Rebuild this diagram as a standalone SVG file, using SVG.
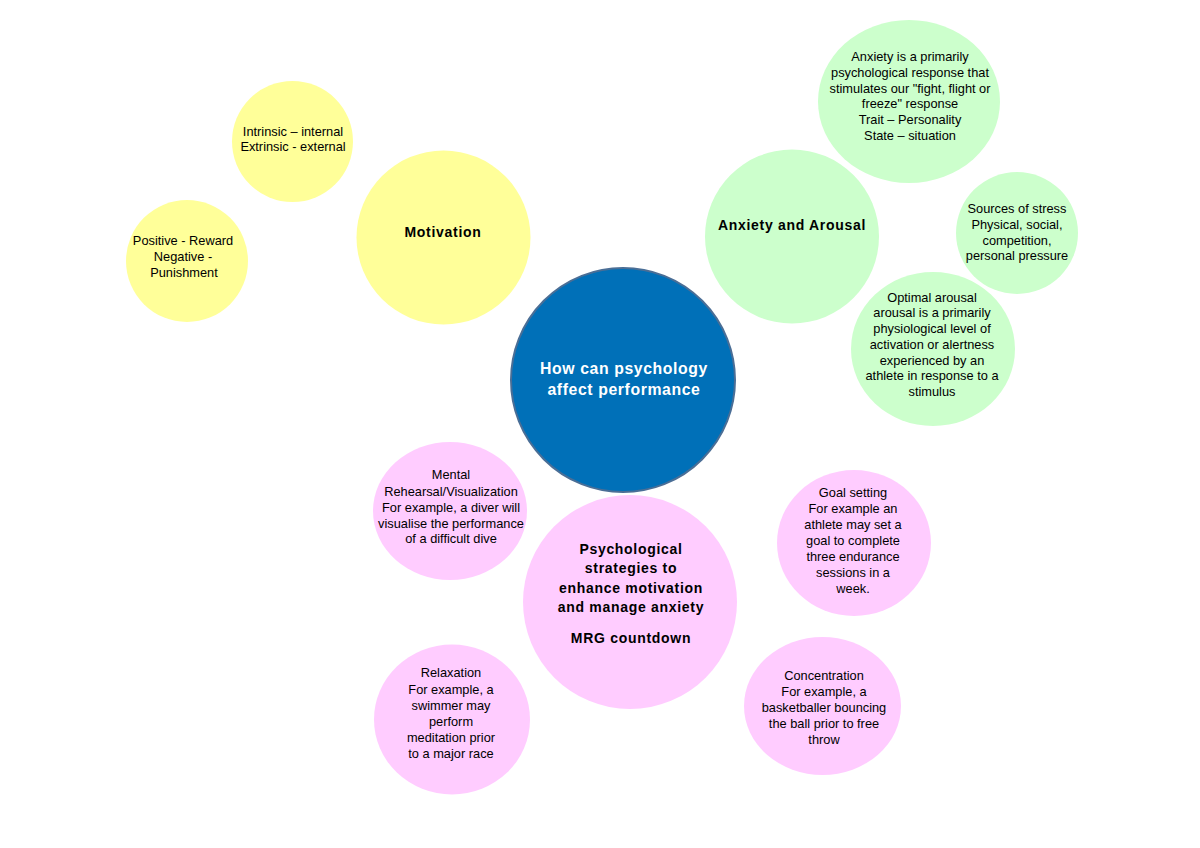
<svg xmlns="http://www.w3.org/2000/svg" width="1200" height="848" viewBox="0 0 1200 848">
<style>
.y{fill:#ffff99}
.g{fill:#ccffcc}
.p{fill:#ffccff}
text{font-family:"Liberation Sans",Arial,sans-serif;text-anchor:middle;fill:#000}
.t{font-size:12.8px}
.b{font-size:14px;font-weight:bold;letter-spacing:0.7px}
.w{font-size:15.8px;font-weight:bold;fill:#fff;letter-spacing:0.6px}
</style>
<rect width="1200" height="848" fill="#fff"/>
<g id="connectors"></g>
<g id="central">
<circle cx="623" cy="380" r="112" fill="#0070b8" stroke="#4a6e96" stroke-width="2"/>
<text class="w" x="624" y="374">How can psychology</text>
<text class="w" x="624" y="395">affect performance</text>
</g>
<g id="motivation">
<circle class="y" cx="443.5" cy="237.5" r="87"/>
<text class="b" x="443" y="237">Motivation</text>
</g>
<g id="intrinsic">
<circle class="y" cx="292.5" cy="141.5" r="60.5"/>
<text class="t" x="293" y="136">Intrinsic – internal</text>
<text class="t" x="293" y="151">Extrinsic - external</text>
</g>
<g id="positive">
<circle class="y" cx="187" cy="261" r="61"/>
<text class="t" x="183" y="245">Positive - Reward</text>
<text class="t" x="183" y="261">Negative -</text>
<text class="t" x="184" y="277">Punishment</text>
</g>
<g id="anxiety-arousal">
<circle class="g" cx="792" cy="236.5" r="87"/>
<text class="b" x="792" y="230">Anxiety and Arousal</text>
</g>
<g id="anxiety-def">
<ellipse class="g" cx="909" cy="101.5" rx="91" ry="81.5"/>
<text class="t" x="910" y="61">Anxiety is a primarily</text>
<text class="t" x="910" y="77">psychological response that</text>
<text class="t" x="910" y="93">stimulates our "fight, flight or</text>
<text class="t" x="910" y="108">freeze" response</text>
<text class="t" x="910" y="124">Trait – Personality</text>
<text class="t" x="910" y="140">State – situation</text>
</g>
<g id="sources">
<circle class="g" cx="1017" cy="233" r="61"/>
<text class="t" x="1017" y="213">Sources of stress</text>
<text class="t" x="1017" y="229">Physical, social,</text>
<text class="t" x="1017" y="245">competition,</text>
<text class="t" x="1017" y="260">personal pressure</text>
</g>
<g id="optimal">
<ellipse class="g" cx="933" cy="349" rx="82" ry="77"/>
<text class="t" x="932" y="302">Optimal arousal</text>
<text class="t" x="932" y="317">arousal is a primarily</text>
<text class="t" x="932" y="333">physiological level of</text>
<text class="t" x="932" y="349">activation or alertness</text>
<text class="t" x="932" y="365">experienced by an</text>
<text class="t" x="932" y="380">athlete in response to a</text>
<text class="t" x="932" y="396">stimulus</text>
</g>
<g id="strategies">
<circle class="p" cx="630" cy="602" r="107"/>
<text class="b" x="631" y="554">Psychological</text>
<text class="b" x="631" y="573">strategies to</text>
<text class="b" x="631" y="593">enhance motivation</text>
<text class="b" x="631" y="612">and manage anxiety</text>
<text class="b" x="631" y="643">MRG countdown</text>
</g>
<g id="mental">
<ellipse class="p" cx="450" cy="511" rx="77" ry="69"/>
<text class="t" x="451" y="479">Mental</text>
<text class="t" x="451" y="496">Rehearsal/Visualization</text>
<text class="t" x="451" y="512">For example, a diver will</text>
<text class="t" x="451" y="528">visualise the performance</text>
<text class="t" x="451" y="543">of a difficult dive</text>
</g>
<g id="relaxation">
<ellipse class="p" cx="452" cy="719.5" rx="78" ry="75"/>
<text class="t" x="451" y="677">Relaxation</text>
<text class="t" x="451" y="694">For example, a</text>
<text class="t" x="451" y="710">swimmer may</text>
<text class="t" x="451" y="726">perform</text>
<text class="t" x="451" y="742">meditation prior</text>
<text class="t" x="451" y="758">to a major race</text>
</g>
<g id="goal">
<ellipse class="p" cx="854" cy="543" rx="77" ry="73"/>
<text class="t" x="853" y="497">Goal setting</text>
<text class="t" x="853" y="513">For example an</text>
<text class="t" x="853" y="529">athlete may set a</text>
<text class="t" x="853" y="545">goal to complete</text>
<text class="t" x="853" y="561">three endurance</text>
<text class="t" x="853" y="577">sessions in a</text>
<text class="t" x="853" y="593">week.</text>
</g>
<g id="concentration">
<ellipse class="p" cx="822.5" cy="706" rx="78.5" ry="69"/>
<text class="t" x="824" y="680">Concentration</text>
<text class="t" x="824" y="696">For example, a</text>
<text class="t" x="824" y="712">basketballer bouncing</text>
<text class="t" x="824" y="728">the ball prior to free</text>
<text class="t" x="824" y="744">throw</text>
</g>
</svg>
